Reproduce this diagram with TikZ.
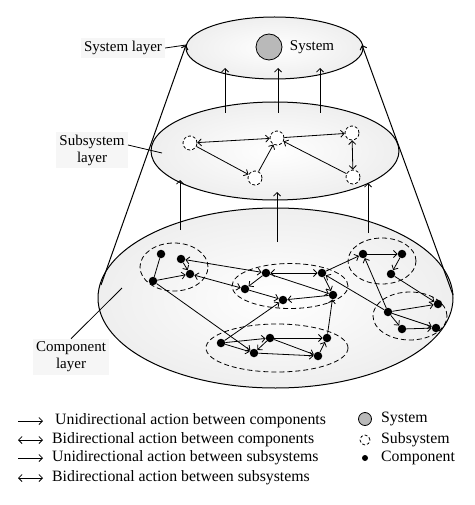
\documentclass[tikz,border=0pt]{standalone}
\usepackage{fontspec}
\setmainfont{Liberation Serif}
\usetikzlibrary{shapes.geometric,arrows.meta}
\begin{document}
\begin{tikzpicture}[x=1pt,y=-1pt,
  tip/.tip={Straight Barb[length=3.5pt,width=7pt]},
  ar/.style={-tip, line width=0.8pt},
  bar/.style={tip-tip, line width=0.8pt},
  layer/.style={ellipse, draw, line width=1pt, inner color=white, outer color=gray!13, inner sep=0pt},
  dot/.style={circle, fill=black, minimum size=8.5pt, inner sep=0pt},
  sub/.style={circle, draw, dash pattern=on 3pt off 2pt, fill=white, minimum size=14pt, inner sep=0pt, line width=0.8pt},
  grp/.style={ellipse, draw, dash pattern=on 5pt off 3pt, line width=0.8pt, inner sep=0pt},
  txt/.style={font=\fontsize{15}{17}\selectfont},
  legtxt/.style={font=\fontsize{15.8}{18}\selectfont},
  lbl/.style={txt, fill=gray!7, align=center, inner sep=3pt}
]
\useasboundingbox (0,0) rectangle (474,505);

% layers
\node[layer, minimum width=355pt, minimum height=180pt] (comp) at (275.5,298) {};
\node[layer, minimum width=248pt, minimum height=98pt] (subl) at (275,151) {};
\node[layer, minimum width=177pt, minimum height=62pt] (sys) at (274.5,48) {};

% cone
\coordinate (cl) at (101,285);
\coordinate (cr) at (453,295);
\coordinate (sysl) at (186,45);
\coordinate (sysr) at (362,45);
\draw[ar, line width=1pt] (cl) -- (sysl);
\draw[ar, line width=1pt] (cr) -- (sysr);

% system
\node[circle, draw, fill=gray!55, minimum size=26pt, inner sep=0pt, line width=0.8pt] (sysc) at (269,47) {};
\node[txt] (systxt) at (312,47) {System};

% labels
\node[lbl] (lsys) at (123,48) {System layer};
\draw[line width=0.8pt] (lsys.east) -- (sysl);
\node[lbl] (lsub) at (92,150) {Subsystem\\layer};
\coordinate (sublp) at (162,153);
\draw[line width=0.8pt] (128,145) -- (sublp);
\node[lbl] (lcomp) at (71,357) {Component\\layer};
\coordinate (complp) at (122,288);
\draw[line width=0.8pt] (lcomp.north) -- (complp);

% arrows between layers
\foreach \x/\a/\b [count=\i] in {225/113/68, 278/113/68, 320/113/68} {
  \coordinate (su\i) at (\x,\a);
  \coordinate (st\i) at (\x,\b);
  \draw[ar] (su\i) -- (st\i);
}
\foreach \x/\a/\b [count=\i] in {180/230/180, 277/242/192, 368/233/183} {
  \coordinate (cu\i) at (\x,\a);
  \coordinate (ct\i) at (\x,\b);
  \draw[ar] (cu\i) -- (ct\i);
}

% subsystems
\node[sub] (s1) at (190,143) {};
\node[sub] (s2) at (277,138) {};
\node[sub] (s3) at (352,133) {};
\node[sub] (s4) at (255,178) {};
\node[sub] (s5) at (353,177) {};
\draw[bar] (s1) -- (s2);
\draw[ar] (s1) -- (s4);
\draw[ar] (s4) -- (s2);
\draw[ar] (s2) -- (s3);
\draw[ar] (s5) -- (s2);
\draw[bar] (s3) -- (s5);

% component groups
\node[grp, minimum width=68pt, minimum height=48pt] (ga) at (174,267) {};
\node[grp, minimum width=116pt, minimum height=45pt] (gb) at (290,286) {};
\node[grp, minimum width=142pt, minimum height=48pt] (gc) at (277,348) {};
\node[grp, minimum width=68pt, minimum height=46pt] (gd) at (382,261) {};
\node[grp, minimum width=74pt, minimum height=48pt] (ge) at (410,316) {};

% components
\node[dot] (a1) at (161,254) {};
\node[dot] (a2) at (181,259) {};
\node[dot] (a3) at (190,274) {};
\node[dot] (a4) at (153,281) {};
\node[dot] (b1) at (266,273) {};
\node[dot] (b2) at (245,289) {};
\node[dot] (b3) at (283,300) {};
\node[dot] (b4) at (322,273) {};
\node[dot] (b5) at (333,295) {};
\node[dot] (c1) at (221,343) {};
\node[dot] (c2) at (254,353) {};
\node[dot] (c3) at (270,338) {};
\node[dot] (c4) at (327,338) {};
\node[dot] (c5) at (318,356) {};
\node[dot] (d1) at (363,254) {};
\node[dot] (d2) at (402,254) {};
\node[dot] (d3) at (391,274) {};
\node[dot] (e1) at (388,312) {};
\node[dot] (e2) at (438,304) {};
\node[dot] (e3) at (402,329) {};
\node[dot] (e4) at (436,328) {};

\draw[line width=0.8pt] (a1) -- (a4);
\draw[ar] (a4) -- (a3);
\draw[ar] (a2) -- (a3);
\draw[bar] (a2) -- (b1);
\draw[bar] (a3) -- (b2);
\draw[ar] (a4) -- (c2);
\draw[bar] (b1) -- (b4);
\draw[ar] (b1) -- (b2);
\draw[ar] (b2) -- (b3);
\draw[ar] (b5) -- (b3);
\draw[ar] (b1) -- (b5);
\draw[ar] (b4) -- (b5);
\draw[ar] (c4) -- (b5);
\draw[ar] (c1) -- (b3);
\draw[ar] (b4) -- (d1);
\draw[ar] (e1) -- (b4);
\draw[ar] (e1) -- (d1);
\draw[ar] (d1) -- (d2);
\draw[ar] (d2) -- (d3);
\draw[ar] (d3) -- (e2);
\draw[ar] (e1) -- (e2);
\draw[ar] (e1) -- (e4);
\draw[ar] (e1) -- (e3);
\draw[ar] (e3) -- (e4);
\draw[ar] (c1) -- (c3);
\draw[ar] (c1) -- (c2);
\draw[ar] (c3) -- (c2);
\draw[ar] (c3) -- (c4);
\draw[ar] (c3) -- (c5);
\draw[ar] (c2) -- (c5);
\draw[ar] (c5) -- (c4);

% legend
\foreach \y/\s/\x/\t [count=\i] in {421/ar/55/Unidirectional action between components,
                                 440/bar/52/Bidirectional action between components,
                                 458/ar/52/Unidirectional action between subsystems,
                                 478/bar/52/Bidirectional action between subsystems} {
  \coordinate (la\i) at (18,\y);
  \coordinate (lb\i) at (43,\y);
  \draw[\s] (la\i) -- (lb\i);
  \node[legtxt, anchor=west, inner sep=0pt] (lt\i) at (\x,\y) {\t};
}
\node[circle, draw, fill=gray!55, minimum size=13pt, inner sep=0pt, line width=0.8pt] (k1) at (365,419) {};
\node[legtxt, anchor=west, inner sep=0pt] (kt1) at (381,419) {System};
\node[sub, minimum size=10pt] (k2) at (365,440) {};
\node[legtxt, anchor=west, inner sep=0pt] (kt2) at (381,440) {Subsystem};
\node[dot, minimum size=6pt] (k3) at (365,458) {};
\node[legtxt, anchor=west, inner sep=0pt] (kt3) at (381,458) {Component};
\end{tikzpicture}
\end{document}
